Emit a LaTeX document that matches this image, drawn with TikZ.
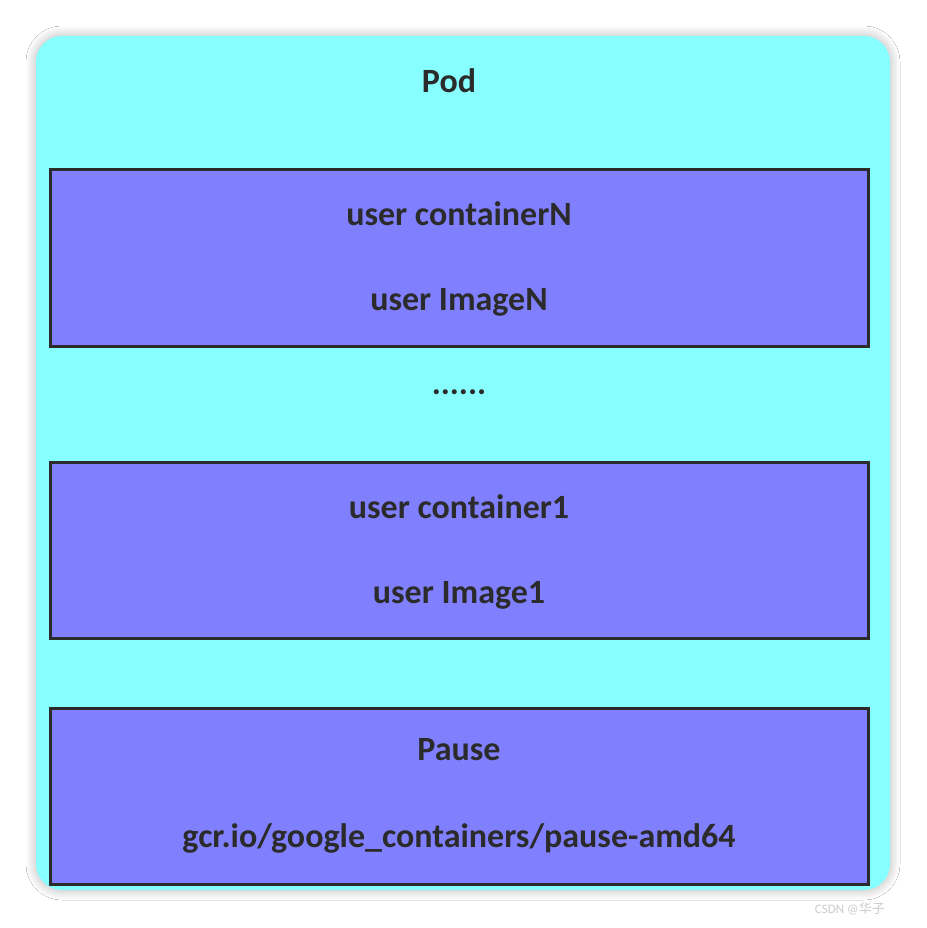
\documentclass[tikz,border=0pt]{standalone}
\usepackage{fontspec}
\setmainfont{Carlito}
\newfontfamily\cjk{Noto Sans CJK SC}
\usetikzlibrary{shadows.blur}
\definecolor{podc}{HTML}{88FFFF}
\definecolor{boxc}{HTML}{8080FF}
\definecolor{txt}{HTML}{2B2B2B}
\tikzset{
 cbox/.style={draw=txt,line width=3pt,fill=boxc,minimum width=818pt,minimum height=176pt,inner sep=0pt},
 lbl/.style={text=txt,font=\fontsize{34}{40}\selectfont\bfseries,inner sep=0pt}
}
\begin{document}
\begin{tikzpicture}[x=1pt,y=-1pt]
\useasboundingbox[fill=white] (0,0) rectangle (926,928);
\node[fill=podc,rounded corners=26pt,minimum width=854pt,minimum height=854pt,blur shadow={shadow blur steps=8,shadow xshift=0pt,shadow yshift=0pt,shadow blur radius=10pt,shadow opacity=30}] (pod) at (463,463) {};
\node[lbl] (podt) at (449,81) {Pod};
\node[cbox] (bn) at (459,258) {};
\node[lbl] (bn1) at (459,214) {user containerN};
\node[lbl] (bn2) at (459,302) {user ImageN};
\node[lbl] (dots) at (459,392) {......};
\node[cbox] (b1) at (459,550.5) {};
\node[lbl] (b11) at (459,507) {user container1};
\node[lbl] (b12) at (459,595) {user Image1};
\node[cbox] (bp) at (459,796) {};
\node[lbl] (bp1) at (459,750) {Pause};
\node[lbl] (bp2) at (459,838) {gcr.io/google\_containers/pause-amd64};
\node[text=gray!40,font=\fontsize{13}{15}\selectfont,anchor=east,inner sep=0pt] (wm) at (885,909) {CSDN @{\cjk 华子}};
\end{tikzpicture}
\end{document}
